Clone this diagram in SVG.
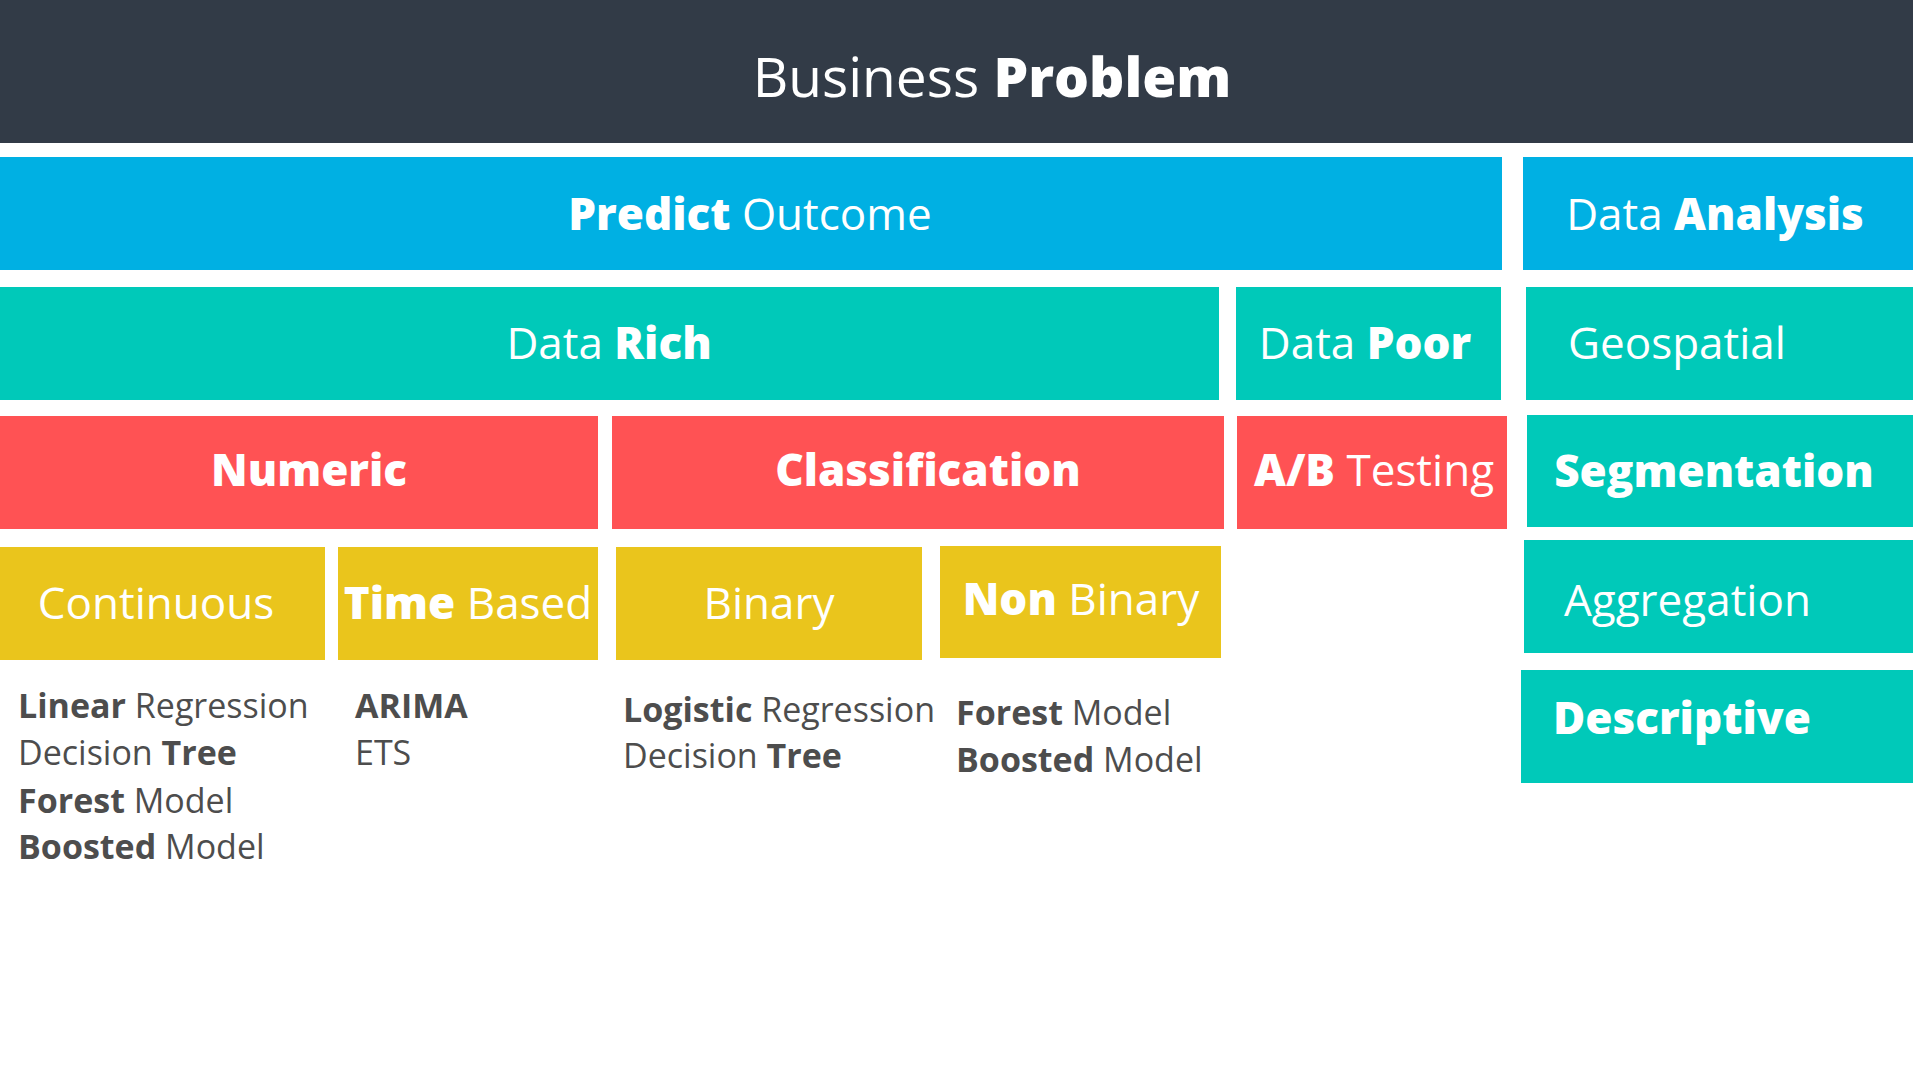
<svg xmlns="http://www.w3.org/2000/svg" width="1913" height="1076" viewBox="0 0 1913 1076">
<style>
text{font-family:"Open Sans","Noto Sans","Liberation Sans",sans-serif;fill:#fff}
.b{font-weight:800}
.h{font-size:55px}
.t{font-size:44px}
.l{font-size:34px;fill:#4d4d4d}
.l .b,.l.b{font-weight:700}
.dark{fill:#323b47}.blue{fill:#00b0e3}.green{fill:#00c9b9}.red{fill:#ff5254}.yellow{fill:#eac51c}
</style>
<rect width="1913" height="1076" fill="#fff"/>
<g id="business-problem"><rect class="dark" x="0" y="0" width="1913" height="143"/><text class="h" x="992" y="97" text-anchor="middle">Business <tspan class="b">Problem</tspan></text></g>
<g id="predict-outcome"><rect class="blue" x="0" y="157" width="1502" height="113"/><text class="t" x="750" y="230" text-anchor="middle"><tspan class="b">Predict</tspan> Outcome</text></g>
<g id="data-analysis"><rect class="blue" x="1523" y="157" width="390" height="113"/><text class="t" x="1715" y="230" text-anchor="middle">Data <tspan class="b">Analysis</tspan></text></g>
<g id="data-rich"><rect class="green" x="0" y="287" width="1219" height="113"/><text class="t" x="609" y="359" text-anchor="middle">Data <tspan class="b">Rich</tspan></text></g>
<g id="data-poor"><rect class="green" x="1236" y="287" width="265" height="113"/><text class="t" x="1365" y="359" text-anchor="middle">Data <tspan class="b">Poor</tspan></text></g>
<g id="geospatial"><rect class="green" x="1526" y="287" width="387" height="113"/><text class="t" x="1568" y="359">Geospatial</text></g>
<g id="numeric"><rect class="red" x="0" y="416" width="598" height="113"/><text class="t b" x="309" y="486" text-anchor="middle">Numeric</text></g>
<g id="classification"><rect class="red" x="612" y="416" width="612" height="113"/><text class="t b" x="928" y="486" text-anchor="middle">Classification</text></g>
<g id="ab-testing"><rect class="red" x="1237" y="416" width="270" height="113"/><text class="t" x="1374" y="486" text-anchor="middle"><tspan class="b">A/B</tspan> Testing</text></g>
<g id="segmentation"><rect class="green" x="1527" y="415" width="386" height="112"/><text class="t b" x="1714" y="487" text-anchor="middle">Segmentation</text></g>
<g id="continuous"><rect class="yellow" x="0" y="547" width="325" height="113"/><text class="t" x="156" y="619" text-anchor="middle">Continuous</text></g>
<g id="time-based"><rect class="yellow" x="338" y="547" width="260" height="113"/><text class="t" x="468" y="619" text-anchor="middle"><tspan class="b">Time</tspan> Based</text></g>
<g id="binary"><rect class="yellow" x="616" y="547" width="306" height="113"/><text class="t" x="769" y="619" text-anchor="middle">Binary</text></g>
<g id="non-binary"><rect class="yellow" x="940" y="546" width="281" height="112"/><text class="t" x="1081" y="615" text-anchor="middle"><tspan class="b">Non</tspan> Binary</text></g>
<g id="aggregation"><rect class="green" x="1524" y="540" width="389" height="113"/><text class="t" x="1564" y="616">Aggregation</text></g>
<g id="descriptive"><rect class="green" x="1521" y="670" width="392" height="113"/><text class="t b" x="1553" y="734">Descriptive</text></g>
<g id="numeric-continuous-list">
<text class="l" x="18" y="718"><tspan class="b">Linear</tspan> Regression</text>
<text class="l" x="18" y="765">Decision <tspan class="b">Tree</tspan></text>
<text class="l" x="18" y="813"><tspan class="b">Forest</tspan> Model</text>
<text class="l" x="18" y="859"><tspan class="b">Boosted</tspan> Model</text>
</g>
<g id="time-based-list">
<text class="l b" x="355" y="718">ARIMA</text>
<text class="l" x="355" y="765">ETS</text>
</g>
<g id="binary-list">
<text class="l" x="623" y="722"><tspan class="b">Logistic</tspan> Regression</text>
<text class="l" x="623" y="768">Decision <tspan class="b">Tree</tspan></text>
</g>
<g id="non-binary-list">
<text class="l" x="956" y="725"><tspan class="b">Forest</tspan> Model</text>
<text class="l" x="956" y="772"><tspan class="b">Boosted</tspan> Model</text>
</g>
<g id="connectors"></g>
</svg>
